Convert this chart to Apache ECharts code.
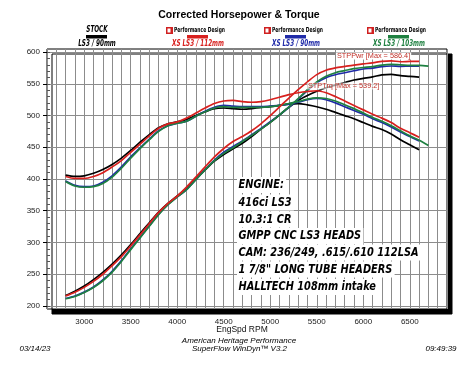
<!DOCTYPE html>
<html><head><meta charset="utf-8">
<script src="https://cdn.jsdelivr.net/npm/echarts@6/dist/echarts.min.js"></script>
<style>html,body{margin:0;padding:0;background:#fff}#c{width:474px;height:366px}</style>
</head><body><div id="c"></div>
<script>
// ---- data ----
const rpm = [2800,2900,3000,3100,3200,3300,3400,3500,3600,3700,3800,3900,4000,4100,4200,4300,4400,4500,4600,4700,4800,4900,5000,5100,5200,5300,5400,5500,5600,5700,5800,5900,6000,6100,6200,6300,6400,6500,6600,6700];
const stockTrq = [406,404,405,409,415,423,433,445,458,470,481,487,490,494,500,506,511,512,511,510,511,513,514,516,518,519,517,514,510,505,500,495,489,483,478,471,462,454,446];
const stockHp  = [216.4,223.1,231.3,241.4,252.9,265.8,280.3,296.5,314.0,331.1,348.0,361.6,373.2,385.7,399.9,414.3,428.1,438.7,447.6,456.4,467.0,478.6,489.3,501.1,512.9,523.7,531.6,538.3,543.8,548.1,552.2,556.1,558.6,561.0,564.3,565.0,563.0,561.9,560.5];
const xs112Trq = [404,401,401,404,410,419,429,442,455,468,480,487,490,496,504,512,519,523,524,522,521,522,525,529,533,536,538,539.2,536,530,523,516,509,502,496,489,480,473,466];
const xs112Hp  = [215.4,221.4,229.1,238.5,249.8,263.3,277.7,294.5,311.9,329.7,347.3,361.6,373.2,387.2,403.0,419.2,434.8,448.1,459.0,467.1,476.1,487.0,499.8,513.7,527.7,540.9,553.2,564.6,571.5,575.2,577.5,579.7,581.5,583.1,585.5,586.4,584.9,585.4,585.6];
const xs90Trq  = [397,390,388,389,395,405,419,435,449,463,476,484,488,491,499,507,513,516,515,514,514,514,515,516,518,521,525,527,525,520,514,508,502,495,489,482,474,467,460];
const xs90Hp   = [211.6,215.4,221.6,229.6,240.7,254.5,271.3,289.9,307.8,326.2,344.4,359.4,371.7,383.3,399.0,415.1,429.8,442.1,451.1,460.0,469.7,479.6,490.3,501.1,512.9,525.7,539.8,551.9,559.8,564.4,567.6,570.7,573.5,574.9,577.3,578.2,577.6,578.0,578.1];
const xs103Trq = [396,389,387,388,393,403,417,433,448,462,475,484,488,491,499,506,512,514,513,513,513,513,514,516,519,522,526,528,527,523,517,511,504,497,491,484,476,468,461,453];
const xs103Hp  = [211.1,214.8,221.1,229.0,239.5,253.2,270.0,288.6,307.1,325.5,343.7,359.4,371.7,383.3,399.0,414.3,428.9,440.4,449.3,459.1,468.8,478.6,489.3,501.1,513.9,526.8,540.8,552.9,561.9,567.6,570.9,574.1,575.8,577.3,579.6,580.6,580.1,579.2,579.3,577.9];
const xTickLabels = [3000,3500,4000,4500,5000,5500,6000,6500];
const yTickLabels = [200,250,300,350,400,450,500,550,600];
const yMinorTicks = [];
for (let v = 200; v <= 600; v += 10) yMinorTicks.push(v);
const engineLines = ['ENGINE:','416ci LS3','10.3:1 CR','GMPP CNC LS3 HEADS','CAM: 236/249, .615/.610 112LSA','1 7/8" LONG TUBE HEADERS','HALLTECH 108mm intake'];

// ---- helpers ----
const pairs = vals => vals.map((v, i) => [rpm[i], v]);
const cv = document.createElement('canvas').getContext('2d');
function measure(font, s) { cv.font = font; return cv.measureText(s).width; }
const CF = '"DejaVu Sans"';
const engFont = 'italic bold 13px ' + CF;
const engScale = 180 / measure(engFont, engineLines[4]);
const hdrFont = 'italic bold 9px ' + CF;
const hdrScale = 52 / measure(hdrFont, 'XS LS3 / 112mm');
const logoFont = 'bold 7px ' + CF;
const logoScale = 51 / measure(logoFont, 'Performance Design');

const RED = '#d8201e', BLUE = '#1f2aa8', GREEN = '#1e8040', BLACK = '#000';

function ctext(x, y, text, o) {
  return {
    type: 'text', x: x, y: y, z: 50,
    scaleX: o.scaleX || 1,
    style: Object.assign({
      text: text, x: 0, y: 0, align: o.align || 'center', verticalAlign: 'middle',
      fill: o.fill || '#000', fontSize: o.fontSize || 8, fontFamily: o.fontFamily || '"Liberation Sans", Arial, sans-serif',
      fontWeight: o.fontWeight || 'normal', fontStyle: o.fontStyle || 'normal'
    }, o.style || {})
  };
}

const graphics = [];
graphics.push(ctext(239, 15, 'Corrected Horsepower & Torque', {fontSize: 10.5, fontWeight: 'bold'}));
// header groups
const groups = [
  {cx: 97, label: 'LS3 / 90mm', col: BLACK, top: 'STOCK'},
  {cx: 198, label: 'XS LS3 / 112mm', col: RED},
  {cx: 296, label: 'XS LS3 / 90mm', col: BLUE},
  {cx: 399, label: 'XS LS3 / 103mm', col: GREEN}
];
groups.forEach(g => {
  if (g.top) {
    graphics.push(ctext(g.cx, 30, g.top, {fontSize: 9, fontWeight: 'bold', fontStyle: 'italic', fontFamily: CF, scaleX: hdrScale}));
  } else {
    graphics.push({type: 'rect', z: 50, shape: {x: g.cx - 32, y: 27, width: 7, height: 7}, style: {fill: '#d02020'}});
    graphics.push({type: 'rect', z: 51, shape: {x: g.cx - 30.5, y: 28.5, width: 3, height: 4}, style: {fill: '#fff'}});
    graphics.push(ctext(g.cx - 24, 30.5, 'Performance Design', {align: 'left', fontSize: 7, fontWeight: 'bold', fontFamily: CF, scaleX: logoScale}));
  }
  graphics.push({type: 'rect', z: 50, shape: {x: g.cx - 11, y: 35, width: 21, height: 3.5}, style: {fill: g.col}});
  graphics.push(ctext(g.cx, 43.5, g.label, {fontSize: 9, fontWeight: 'bold', fontStyle: 'italic', fontFamily: CF, fill: g.col, scaleX: hdrScale}));
});
// engine box
const engY = [185, 202.5, 219.5, 236, 252.5, 269.5, 287];
engineLines.forEach((t, i) => {
  graphics.push(ctext(237, engY[i], t, {align: 'left', fontSize: 13, fontWeight: 'bold', fontStyle: 'italic', fontFamily: CF, scaleX: engScale,
    style: {backgroundColor: '#fff', padding: [2, 3, 1, 2]}}));
});
// max labels
graphics.push(ctext(336, 56, 'STPPwr [Max = 586.4]', {align: 'left', fontSize: 7.3, fill: '#c03028', style: {backgroundColor: '#fff', padding: [0, 1]}}));
graphics.push(ctext(307, 86, 'STPTrq [Max = 539.2]', {align: 'left', fontSize: 7.3, fill: '#c03028', style: {backgroundColor: 'rgba(255,255,255,0.6)', padding: [0, 1]}}));
// axis title and footer
graphics.push(ctext(242, 329.5, 'EngSpd RPM', {fontSize: 8.5, fill: '#111'}));
graphics.push(ctext(239, 341, 'American Heritage Performance', {fontSize: 8, fontStyle: 'italic'}));
graphics.push(ctext(239.5, 349, 'SuperFlow WinDyn\u2122 V3.2', {fontSize: 8, fontStyle: 'italic'}));
graphics.push(ctext(35, 349, '03/14/23', {fontSize: 8, fontStyle: 'italic'}));
graphics.push(ctext(441, 349, '09:49:39', {fontSize: 8, fontStyle: 'italic'}));

function line(name, vals, color) {
  return {type: 'line', name: name, data: pairs(vals), showSymbol: false, smooth: 0.3,
    lineStyle: {color: color, width: 1.7}, itemStyle: {color: color}, z: 5, silent: true, animation: false};
}

const chart = echarts.init(document.getElementById('c'), null, {renderer: 'canvas'});
chart.setOption({
  animation: false,
  backgroundColor: '#fff',
  grid: {left: 47, top: 49, width: 400, height: 260, show: true, borderColor: '#000', borderWidth: 1,
    backgroundColor: '#fff', shadowColor: '#000', shadowOffsetX: 5, shadowOffsetY: 5, shadowBlur: 0, outerBoundsMode: 'none'},
  xAxis: {
    type: 'value', min: 2600, max: 6900, interval: 100,
    axisLine: {show: false}, axisTick: {show: false},
    axisLabel: {fontSize: 8, color: '#222', margin: 9, fontFamily: '"Liberation Sans", Arial',
      formatter: v => (xTickLabels.indexOf(v) >= 0 ? String(v) : '')},
    splitLine: {show: true, lineStyle: {color: '#8c8c8c', width: 1}}
  },
  yAxis: [{
    type: 'value', min: 195, max: 605,
    axisLine: {show: false},
    axisTick: {show: true, customValues: yTickLabels, length: 4, lineStyle: {color: '#000'}},
    axisLabel: {customValues: yTickLabels, fontSize: 8, color: '#222', margin: 7, fontFamily: '"Liberation Sans", Arial'},
    splitLine: {show: true, lineStyle: {color: '#8c8c8c', width: 1}}
  }, {
    type: 'value', min: 195, max: 605, position: 'left',
    axisLine: {show: false},
    axisTick: {show: true, inside: true, customValues: yMinorTicks, length: 3, lineStyle: {color: '#555'}},
    axisLabel: {show: false}, splitLine: {show: false}
  }],
  graphic: graphics,
  series: [
    line('Stock HP', stockHp, BLACK), line('Stock Trq', stockTrq, BLACK),
    line('XS 90 HP', xs90Hp, BLUE), line('XS 90 Trq', xs90Trq, BLUE),
    line('XS 103 HP', xs103Hp, GREEN), line('XS 103 Trq', xs103Trq, GREEN),
    line('XS 112 HP', xs112Hp, RED), line('XS 112 Trq', xs112Trq, RED)
  ]
});
</script></body></html>
